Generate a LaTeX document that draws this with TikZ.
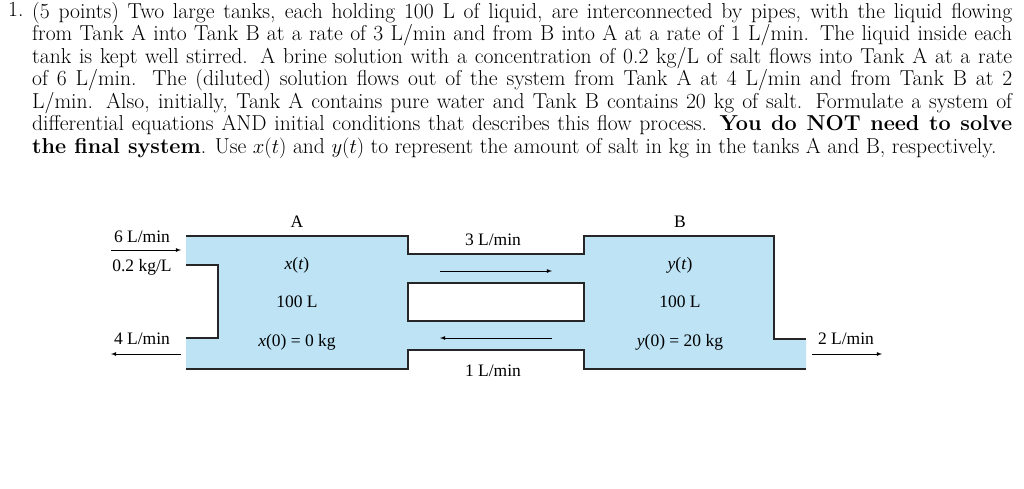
\documentclass[tikz,border=0pt]{standalone}
\usepackage{fontspec}
\newfontfamily\tms{Liberation Serif}
\definecolor{tank}{HTML}{BDE3F5}
\begin{document}
\begin{tikzpicture}[x=1pt,y=-1pt,
  wall/.style={line width=1.6pt,draw=black!85},
  lbl/.style={font=\tms\fontsize{17.5}{19}\selectfont,inner sep=0},
  flow/.style={-latex,line width=0.8pt}]
\useasboundingbox (0,0) rectangle (1024,488);
% text
\node[anchor=north west,inner sep=0] (num) at (8,2) {\fontsize{21.6}{22.5}\selectfont 1.};
\node[anchor=north west,inner sep=0,text width=980pt,align=justify] (txt) at (32,2) {\fontsize{21.6}{22.5}\selectfont
(5 points) Two large tanks, each holding 100 L of liquid, are interconnected by pipes, with the liquid flowing\linebreak
from Tank A into Tank B at a rate of 3 L/min and from B into A at a rate of 1 L/min. The liquid inside each\linebreak
tank is kept well stirred. A brine solution with a concentration of 0.2 kg/L of salt flows into Tank A at a rate\linebreak
of 6 L/min. The (diluted) solution flows out of the system from Tank A at 4 L/min and from Tank B at 2\linebreak
L/min. Also, initially, Tank A contains pure water and Tank B contains 20 kg of salt. Formulate a system of\linebreak
differential equations AND initial conditions that describes this flow process. \textbf{You do NOT need to solve}\linebreak
\textbf{the final system}. Use $x(t)$ and $y(t)$ to represent the amount of salt in kg in the tanks A and B, respectively.\par};
% fill
\fill[tank] (186,236) -- (408,236) -- (408,254) -- (584,254) -- (584,236) -- (774,236) -- (774,339) -- (806,339) -- (806,369) -- (584,369) -- (584,350) -- (408,350) -- (408,369) -- (186,369) -- (186,338) -- (218,338) -- (218,265) -- (186,265) -- cycle;
\fill[white] (408,283) rectangle (584,321);
% walls
\draw[wall] (186,236) -- (408,236) -- (408,254) -- (584,254) -- (584,236) -- (774,236) -- (774,339) -- (806,339);
\draw[wall] (186,265) -- (218,265) -- (218,338) -- (186,338);
\draw[wall] (186,369) -- (408,369) -- (408,350) -- (584,350) -- (584,369) -- (806,369);
\draw[wall] (408,283) rectangle (584,321);
% arrows
\coordinate (i1) at (111,250); \coordinate (i2) at (181,250);
\coordinate (o1) at (181,354); \coordinate (o2) at (111,354);
\coordinate (p1) at (440,271); \coordinate (p2) at (552,271);
\coordinate (q1) at (552,338); \coordinate (q2) at (440,338);
\coordinate (r1) at (812,354); \coordinate (r2) at (882,354);
\draw[flow] (i1) -- (i2);
\draw[flow] (o1) -- (o2);
\draw[flow] (p1) -- (p2);
\draw[flow] (q1) -- (q2);
\draw[flow] (r1) -- (r2);
% labels
\node[lbl] (l6) at (142,237) {6 L/min};
\node[lbl] (lc) at (142,267) {0.2 kg/L};
\node[lbl] (l4) at (142,339) {4 L/min};
\node[lbl] (A) at (297,222) {A};
\node[lbl] (xt) at (297,265) {\textit{x}(\textit{t})};
\node[lbl] (va) at (297,302) {100 L};
\node[lbl] (x0) at (297,342) {\textit{x}(0) = 0 kg};
\node[lbl] (l3) at (493,240) {3 L/min};
\node[lbl] (l1) at (493,371) {1 L/min};
\node[lbl] (B) at (680,222) {B};
\node[lbl] (yt) at (680,265) {\textit{y}(\textit{t})};
\node[lbl] (vb) at (680,302) {100 L};
\node[lbl] (y0) at (680,342) {\textit{y}(0) = 20 kg};
\node[lbl] (l2) at (846,339) {2 L/min};
\end{tikzpicture}
\end{document}
